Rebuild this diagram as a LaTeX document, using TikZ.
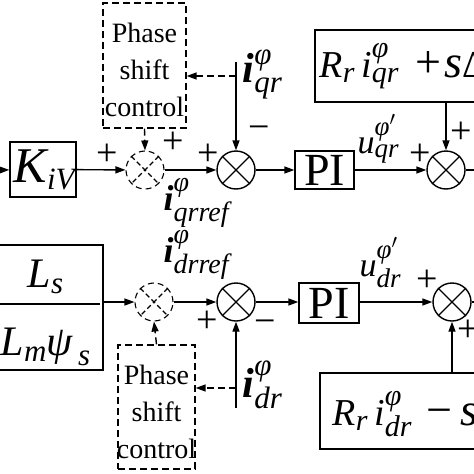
\documentclass[tikz,border=0pt]{standalone}
\usepackage{fix-cm}
\usepackage{amsmath}
\usepackage{fontspec}
\setmainfont{Liberation Serif}
\usetikzlibrary{arrows.meta}
\DeclareMathSizes{34}{34}{27}{20}
\DeclareMathSizes{36}{36}{28}{20}
\DeclareMathSizes{38}{38}{30}{22}
\DeclareMathSizes{42}{42}{31}{22}
\DeclareMathSizes{50}{50}{31}{22}
\newcommand{\bi}{\textbf{\textit{i}}}
\newcommand{\ph}{\textit{φ}}
\newcommand{\bigsg}[1]{\text{\fontsize{46}{46}\selectfont #1}}
\begin{document}
\begin{tikzpicture}[x=1pt,y=-1pt,line width=1.4pt,
  sumc/.style={circle,draw,minimum size=38pt,inner sep=0pt,line width=1.4pt},
  dsum/.style={sumc,dash pattern=on 6pt off 4pt,line width=1.1pt},
  blk/.style={draw,inner sep=0pt,line width=1.4pt},
  dbox/.style={draw,inner sep=0pt,line width=1.3pt,dash pattern=on 7pt off 4pt},
  arr/.style={-{Triangle[length=10pt,width=7pt]},line width=1.4pt},
  darr/.style={arr,dash pattern=on 7pt off 4pt},
  lbl/.style={anchor=base west,inner sep=0pt},
  sgn/.style={inner sep=0pt,font=\fontsize{38}{38}\selectfont},
  ptxt/.style={align=center,inner sep=0pt,font=\fontsize{28}{37}\selectfont}]
\useasboundingbox (0,0) rectangle (474,474);
\clip (0,0) rectangle (474,474);
\fill[white] (0,0) rectangle (474,474);

% ---------- top row ----------
\node[dbox,minimum width=83pt,minimum height=125pt] (p1) at (144.5,65.5) {};
\node[ptxt] (p1t) at (144.5,70) {Phase\\shift\\control};
\node[blk,minimum width=66pt,minimum height=55pt] (k) at (43,169.5) {};
\node[lbl] (kt) at (13,182) {\fontsize{50}{52}\selectfont $\textit{K}_{\textit{iV}}$};
\coordinate (in1) at (0,170);
\node[dsum] (d1) at (145,170) {};
\node[sumc] (s1) at (236,170) {};
\node[blk,minimum width=59pt,minimum height=38pt,font=\fontsize{46}{46}\selectfont] (pi1) at (324.5,170) {PI};
\node[sumc] (s2) at (446,170) {};
\node[blk,minimum width=180pt,minimum height=72pt] (b1) at (405,66) {};
\node[lbl] (b1t) at (319,77) {\fontsize{38}{40}\selectfont $\textit{R}_{\textit{r}}\,\textit{i}^{\ph}_{\textit{qr}}\hspace{16pt}\bigsg{+}\hspace{3pt}\bigsg{\textit{s}}\text{Δ}$};
\coordinate (o1) at (480,170);
\coordinate (iq) at (236,62);
\coordinate (iqt) at (236,76);

\draw[arr] (in1) -- (k);
\draw[arr] (k) -- (d1);
\draw[arr] (d1) -- (s1);
\draw[arr] (s1) -- (pi1);
\draw[arr] (pi1) -- (s2);
\draw (s2) -- (o1);
\draw[arr] (iq) -- (s1.north);
\draw[darr] (iqt) -- (p1.east |- iqt);
\draw[darr] (p1.south) -- (d1.north);
\draw[arr] (s2 |- b1.south) -- (s2.north);

\node[lbl] (lqr) at (242,82) {\fontsize{42}{44}\selectfont $\bi^{\ph}_{\textit{qr}}$};
\node[lbl] (luq) at (357,153) {\fontsize{34}{36}\selectfont $\textit{u}^{\ph^{\prime}}_{\textit{qr}}$};
\node[lbl] (lqref) at (163,210) {\fontsize{36}{38}\selectfont $\bi^{\ph}_{\textit{qrref}}$};

\node[sgn] at (107,155) {+};
\node[sgn] at (173,143) {+};
\node[sgn] at (208,155) {+};
\node[sgn] at (259,133) {−};
\node[sgn] at (420,155) {+};
\node[sgn] at (461,133) {+};

% ---------- bottom row ----------
\node[blk,minimum width=106pt,minimum height=125pt] (fr) at (50,307.5) {};
\coordinate (frl) at (0,304);
\coordinate (frr) at (100,304);
\draw[line width=2.2pt] (frl) -- (frr);
\node[lbl] (ls) at (27,287) {\fontsize{42}{44}\selectfont $\textit{L}_{\textit{s}}$};
\node[lbl] (lm) at (0,355) {\fontsize{42}{44}\selectfont $\textit{L}_{\textit{m}}\textit{ψ}_{\,\textit{s}}$};
\node[dsum] (d2) at (154,302) {};
\node[sumc] (s3) at (236,302) {};
\node[blk,minimum width=60pt,minimum height=40pt,font=\fontsize{46}{46}\selectfont] (pi2) at (329,303) {PI};
\node[sumc] (s4) at (452,302) {};
\node[dbox,minimum width=77pt,minimum height=124pt] (p2) at (156.5,407) {};
\node[ptxt] (p2t) at (156.5,412) {Phase\\shift\\control};
\node[blk,minimum width=180pt,minimum height=76pt] (b2) at (410,411) {};
\node[lbl] (b2t) at (332,425) {\fontsize{38}{40}\selectfont $\textit{R}_{\textit{r}}\,\textit{i}^{\ph}_{\textit{dr}}\hspace{14pt}\bigsg{−}\hspace{8pt}\bigsg{\textit{s}}$};
\coordinate (o2) at (480,302);
\coordinate (id) at (236,408);
\coordinate (idt) at (236,388);

\draw[arr] (fr.east |- d2) -- (d2);
\draw[arr] (d2) -- (s3);
\draw[arr] (s3) -- (pi2.west |- s3);
\draw[arr] (pi2.east |- s4) -- (s4);
\draw (s4) -- (o2);
\draw[arr] (id) -- (s3.south);
\draw[darr] (idt) -- (p2.east |- idt);
\draw[darr] (p2.north) -- (d2.south);
\draw[arr] (s4 |- b2.north) -- (s4.south);

\node[lbl] (ldref) at (163,262) {\fontsize{36}{38}\selectfont $\bi^{\ph}_{\textit{drref}}$};
\node[lbl] (lud) at (359,276) {\fontsize{34}{36}\selectfont $\textit{u}^{\ph^{\prime}}_{\textit{dr}}$};
\node[lbl] (ldr) at (242,397) {\fontsize{42}{44}\selectfont $\bi^{\ph}_{\textit{dr}}$};

\node[sgn] at (207,322) {+};
\node[sgn] at (265,327) {−};
\node[sgn] at (427,281) {+};
\node[sgn] at (468,331) {+};

% crosses in summing junctions
\foreach \n in {s1,s2,s3,s4}{
  \draw[line width=1.3pt] (\n.north east) -- (\n.south west) (\n.north west) -- (\n.south east);
}
\foreach \n in {d1,d2}{
  \draw[line width=1.1pt,dash pattern=on 5pt off 3pt] (\n.north east) -- (\n.south west) (\n.north west) -- (\n.south east);
}
\end{tikzpicture}
\end{document}
